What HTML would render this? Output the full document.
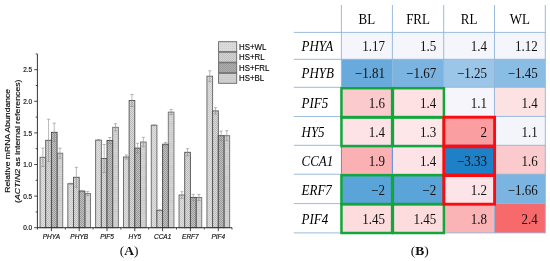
<!DOCTYPE html>
<html><head><meta charset="utf-8"><title>Figure</title>
<style>
html,body{margin:0;padding:0;background:#fff;}
body{width:550px;height:261px;position:relative;overflow:hidden;font-family:"Liberation Sans",sans-serif;}
svg text{white-space:pre;}
.sans, .sans text{font-family:"Liberation Sans",sans-serif;}
.sans text{stroke:#222;stroke-width:0.17px;}
.sans text.serif{stroke:none;}
.serif, .serif text, text.serif{font-family:"Liberation Serif",serif;}
</style></head><body>
<svg id="chart" width="276" height="261" viewBox="0 0 276 261" style="position:absolute;left:0;top:0" class="sans">
<defs>
<pattern id="pWL" width="2" height="2" patternUnits="userSpaceOnUse"><rect width="2" height="2" fill="#e2e2e2"/><rect x="0" y="0" width="1" height="1" fill="#c8c8c8"/><rect x="1" y="1" width="1" height="1" fill="#c8c8c8"/></pattern>
<pattern id="pRL" width="2" height="2" patternUnits="userSpaceOnUse"><rect width="2" height="2" fill="#dcdcdc"/><rect x="0" y="0" width="1" height="1" fill="#bababa"/><rect x="1" y="1" width="1" height="1" fill="#bababa"/></pattern>
<pattern id="pFRL" width="2" height="2" patternUnits="userSpaceOnUse"><rect width="2" height="2" fill="#c2c2c2"/><rect x="0" y="0" width="1" height="1" fill="#9a9a9a"/><rect x="1" y="1" width="1" height="1" fill="#9a9a9a"/></pattern>
<pattern id="pBL" width="2" height="2.2" patternUnits="userSpaceOnUse"><rect width="2" height="2.2" fill="#d8d8d8"/><rect x="0" y="0" width="2" height="1.1" fill="#c8c8c8"/></pattern>
<pattern id="lWL" width="2" height="2" patternUnits="userSpaceOnUse"><rect width="2" height="2" fill="#dcdcdc"/><rect x="0" y="0" width="1" height="1" fill="#cecece"/></pattern>
<pattern id="lRL" width="2" height="2" patternUnits="userSpaceOnUse"><rect width="2" height="2" fill="#d4d4d4"/><rect x="0" y="0" width="1" height="1" fill="#c0c0c0"/><rect x="1" y="1" width="1" height="1" fill="#c0c0c0"/></pattern>
<pattern id="lFRL" width="2" height="2" patternUnits="userSpaceOnUse"><rect width="2" height="2" fill="#acacac"/><rect x="0" y="0" width="1" height="1" fill="#9c9c9c"/><rect x="1" y="1" width="1" height="1" fill="#9c9c9c"/></pattern>
<pattern id="lBL" width="2" height="2.2" patternUnits="userSpaceOnUse"><rect width="2" height="2.2" fill="#d4d4d4"/><rect x="0" y="0" width="2" height="1.1" fill="#cacaca"/></pattern>
<filter id="soft" x="-2%" y="-2%" width="104%" height="104%"><feGaussianBlur stdDeviation="0.3"/></filter>
</defs>
<g filter="url(#soft)">
<rect x="40.04" y="157.30" width="5.68" height="70.40" fill="url(#pWL)" stroke="#626262" stroke-width="0.9"/>
<rect x="57.08" y="153.20" width="5.68" height="74.50" fill="url(#pBL)" stroke="#6e6e6e" stroke-width="0.9"/>
<rect x="45.72" y="140.30" width="5.68" height="87.40" fill="url(#pRL)" stroke="#525252" stroke-width="0.9"/>
<rect x="51.40" y="132.30" width="5.68" height="95.40" fill="url(#pFRL)" stroke="#464646" stroke-width="0.9"/>
<path d="M42.88 148.10V166.50M41.28 148.10h3.2M41.28 166.50h3.2" stroke="#8a8a8a" stroke-width="0.6" fill="none"/>
<path d="M48.56 119.20V161.40M46.96 119.20h3.2M46.96 161.40h3.2" stroke="#8a8a8a" stroke-width="0.6" fill="none"/>
<path d="M54.24 123.10V141.50M52.64 123.10h3.2M52.64 141.50h3.2" stroke="#8a8a8a" stroke-width="0.6" fill="none"/>
<path d="M59.92 148.10V158.30M58.32 148.10h3.2M58.32 158.30h3.2" stroke="#8a8a8a" stroke-width="0.6" fill="none"/>
<rect x="67.84" y="183.70" width="5.68" height="44.00" fill="url(#pWL)" stroke="#626262" stroke-width="0.9"/>
<rect x="84.88" y="193.60" width="5.68" height="34.10" fill="url(#pBL)" stroke="#6e6e6e" stroke-width="0.9"/>
<rect x="73.52" y="177.30" width="5.68" height="50.40" fill="url(#pRL)" stroke="#525252" stroke-width="0.9"/>
<rect x="79.20" y="191.10" width="5.68" height="36.60" fill="url(#pFRL)" stroke="#464646" stroke-width="0.9"/>
<path d="M70.68 183.20V184.20M69.08 183.20h3.2M69.08 184.20h3.2" stroke="#8a8a8a" stroke-width="0.6" fill="none"/>
<path d="M76.36 167.30V187.30M74.76 167.30h3.2M74.76 187.30h3.2" stroke="#8a8a8a" stroke-width="0.6" fill="none"/>
<path d="M82.04 190.40V191.80M80.44 190.40h3.2M80.44 191.80h3.2" stroke="#8a8a8a" stroke-width="0.6" fill="none"/>
<path d="M87.72 191.60V195.60M86.12 191.60h3.2M86.12 195.60h3.2" stroke="#8a8a8a" stroke-width="0.6" fill="none"/>
<rect x="95.64" y="140.10" width="5.68" height="87.60" fill="url(#pWL)" stroke="#626262" stroke-width="0.9"/>
<rect x="112.68" y="127.30" width="5.68" height="100.40" fill="url(#pBL)" stroke="#6e6e6e" stroke-width="0.9"/>
<rect x="101.32" y="158.50" width="5.68" height="69.20" fill="url(#pRL)" stroke="#525252" stroke-width="0.9"/>
<rect x="107.00" y="140.50" width="5.68" height="87.20" fill="url(#pFRL)" stroke="#464646" stroke-width="0.9"/>
<path d="M98.48 139.60V140.60M96.88 139.60h3.2M96.88 140.60h3.2" stroke="#8a8a8a" stroke-width="0.6" fill="none"/>
<path d="M104.16 144.50V172.50M102.56 144.50h3.2M102.56 172.50h3.2" stroke="#8a8a8a" stroke-width="0.6" fill="none"/>
<path d="M109.84 137.50V143.50M108.24 137.50h3.2M108.24 143.50h3.2" stroke="#8a8a8a" stroke-width="0.6" fill="none"/>
<path d="M115.52 123.70V130.90M113.92 123.70h3.2M113.92 130.90h3.2" stroke="#8a8a8a" stroke-width="0.6" fill="none"/>
<rect x="123.44" y="157.00" width="5.68" height="70.70" fill="url(#pWL)" stroke="#626262" stroke-width="0.9"/>
<rect x="140.48" y="142.00" width="5.68" height="85.70" fill="url(#pBL)" stroke="#6e6e6e" stroke-width="0.9"/>
<rect x="129.12" y="100.50" width="5.68" height="127.20" fill="url(#pRL)" stroke="#525252" stroke-width="0.9"/>
<rect x="134.80" y="148.10" width="5.68" height="79.60" fill="url(#pFRL)" stroke="#464646" stroke-width="0.9"/>
<path d="M126.28 155.00V159.00M124.68 155.00h3.2M124.68 159.00h3.2" stroke="#8a8a8a" stroke-width="0.6" fill="none"/>
<path d="M131.96 94.50V106.50M130.36 94.50h3.2M130.36 106.50h3.2" stroke="#8a8a8a" stroke-width="0.6" fill="none"/>
<path d="M137.64 143.30V152.90M136.04 143.30h3.2M136.04 152.90h3.2" stroke="#8a8a8a" stroke-width="0.6" fill="none"/>
<path d="M143.32 137.30V146.70M141.72 137.30h3.2M141.72 146.70h3.2" stroke="#8a8a8a" stroke-width="0.6" fill="none"/>
<rect x="151.24" y="125.20" width="5.68" height="102.50" fill="url(#pWL)" stroke="#626262" stroke-width="0.9"/>
<rect x="168.28" y="112.10" width="5.68" height="115.60" fill="url(#pBL)" stroke="#6e6e6e" stroke-width="0.9"/>
<rect x="156.92" y="210.30" width="5.68" height="17.40" fill="url(#pRL)" stroke="#525252" stroke-width="0.9"/>
<rect x="162.60" y="144.20" width="5.68" height="83.50" fill="url(#pFRL)" stroke="#464646" stroke-width="0.9"/>
<path d="M154.08 124.80V125.60M152.48 124.80h3.2M152.48 125.60h3.2" stroke="#8a8a8a" stroke-width="0.6" fill="none"/>
<path d="M159.76 209.90V210.70M158.16 209.90h3.2M158.16 210.70h3.2" stroke="#8a8a8a" stroke-width="0.6" fill="none"/>
<path d="M165.44 142.40V146.00M163.84 142.40h3.2M163.84 146.00h3.2" stroke="#8a8a8a" stroke-width="0.6" fill="none"/>
<path d="M171.12 109.60V114.60M169.52 109.60h3.2M169.52 114.60h3.2" stroke="#8a8a8a" stroke-width="0.6" fill="none"/>
<rect x="179.04" y="195.00" width="5.68" height="32.70" fill="url(#pWL)" stroke="#626262" stroke-width="0.9"/>
<rect x="196.08" y="197.40" width="5.68" height="30.30" fill="url(#pBL)" stroke="#6e6e6e" stroke-width="0.9"/>
<rect x="184.72" y="152.30" width="5.68" height="75.40" fill="url(#pRL)" stroke="#525252" stroke-width="0.9"/>
<rect x="190.40" y="197.40" width="5.68" height="30.30" fill="url(#pFRL)" stroke="#464646" stroke-width="0.9"/>
<path d="M181.88 191.70V198.30M180.28 191.70h3.2M180.28 198.30h3.2" stroke="#8a8a8a" stroke-width="0.6" fill="none"/>
<path d="M187.56 148.70V155.90M185.96 148.70h3.2M185.96 155.90h3.2" stroke="#8a8a8a" stroke-width="0.6" fill="none"/>
<path d="M193.24 194.40V200.40M191.64 194.40h3.2M191.64 200.40h3.2" stroke="#8a8a8a" stroke-width="0.6" fill="none"/>
<path d="M198.92 194.40V200.40M197.32 194.40h3.2M197.32 200.40h3.2" stroke="#8a8a8a" stroke-width="0.6" fill="none"/>
<rect x="206.94" y="76.20" width="5.68" height="151.50" fill="url(#pWL)" stroke="#626262" stroke-width="0.9"/>
<rect x="223.98" y="135.70" width="5.68" height="92.00" fill="url(#pBL)" stroke="#6e6e6e" stroke-width="0.9"/>
<rect x="212.62" y="110.90" width="5.68" height="116.80" fill="url(#pRL)" stroke="#525252" stroke-width="0.9"/>
<rect x="218.30" y="135.70" width="5.68" height="92.00" fill="url(#pFRL)" stroke="#464646" stroke-width="0.9"/>
<path d="M209.78 70.80V81.60M208.18 70.80h3.2M208.18 81.60h3.2" stroke="#8a8a8a" stroke-width="0.6" fill="none"/>
<path d="M215.46 107.70V114.10M213.86 107.70h3.2M213.86 114.10h3.2" stroke="#8a8a8a" stroke-width="0.6" fill="none"/>
<path d="M221.14 131.00V140.40M219.54 131.00h3.2M219.54 140.40h3.2" stroke="#8a8a8a" stroke-width="0.6" fill="none"/>
<path d="M226.82 130.70V140.70M225.22 130.70h3.2M225.22 140.70h3.2" stroke="#8a8a8a" stroke-width="0.6" fill="none"/>
</g>
<path d="M37.4 54.1V227.7H232.0" stroke="#333" stroke-width="1" fill="none"/>
<path d="M34.20 227.70H37.4" stroke="#333" stroke-width="0.9"/>
<text transform="translate(32.20 230.30) scale(0.870 1)" font-size="7.4" text-anchor="end" fill="#000">0.0</text>
<path d="M34.20 196.10H37.4" stroke="#333" stroke-width="0.9"/>
<text transform="translate(32.20 198.70) scale(0.870 1)" font-size="7.4" text-anchor="end" fill="#000">0.5</text>
<path d="M34.20 164.50H37.4" stroke="#333" stroke-width="0.9"/>
<text transform="translate(32.20 167.10) scale(0.870 1)" font-size="7.4" text-anchor="end" fill="#000">1.0</text>
<path d="M34.20 132.90H37.4" stroke="#333" stroke-width="0.9"/>
<text transform="translate(32.20 135.50) scale(0.870 1)" font-size="7.4" text-anchor="end" fill="#000">1.5</text>
<path d="M34.20 101.30H37.4" stroke="#333" stroke-width="0.9"/>
<text transform="translate(32.20 103.90) scale(0.870 1)" font-size="7.4" text-anchor="end" fill="#000">2.0</text>
<path d="M34.20 69.70H37.4" stroke="#333" stroke-width="0.9"/>
<text transform="translate(32.20 72.30) scale(0.870 1)" font-size="7.4" text-anchor="end" fill="#000">2.5</text>
<path d="M35.70 211.90H37.4" stroke="#333" stroke-width="0.9"/>
<path d="M35.70 180.30H37.4" stroke="#333" stroke-width="0.9"/>
<path d="M35.70 148.70H37.4" stroke="#333" stroke-width="0.9"/>
<path d="M35.70 117.10H37.4" stroke="#333" stroke-width="0.9"/>
<path d="M35.70 85.50H37.4" stroke="#333" stroke-width="0.9"/>
<path d="M35.70 53.90H37.4" stroke="#333" stroke-width="0.9"/>
<path d="M51.40 227.7v3.5" stroke="#333" stroke-width="0.9"/>
<path d="M65.30 227.7v1.8" stroke="#333" stroke-width="0.9"/>
<text transform="translate(51.40 239.30) scale(0.915 1)" font-size="7.1" text-anchor="middle" font-style="italic" fill="#000">PHYA</text>
<path d="M79.20 227.7v3.5" stroke="#333" stroke-width="0.9"/>
<path d="M93.10 227.7v1.8" stroke="#333" stroke-width="0.9"/>
<text transform="translate(79.20 239.30) scale(0.915 1)" font-size="7.1" text-anchor="middle" font-style="italic" fill="#000">PHYB</text>
<path d="M107.00 227.7v3.5" stroke="#333" stroke-width="0.9"/>
<path d="M120.90 227.7v1.8" stroke="#333" stroke-width="0.9"/>
<text transform="translate(107.00 239.30) scale(0.915 1)" font-size="7.1" text-anchor="middle" font-style="italic" fill="#000">PIF5</text>
<path d="M134.80 227.7v3.5" stroke="#333" stroke-width="0.9"/>
<path d="M148.70 227.7v1.8" stroke="#333" stroke-width="0.9"/>
<text transform="translate(134.80 239.30) scale(0.915 1)" font-size="7.1" text-anchor="middle" font-style="italic" fill="#000">HY5</text>
<path d="M162.60 227.7v3.5" stroke="#333" stroke-width="0.9"/>
<path d="M176.50 227.7v1.8" stroke="#333" stroke-width="0.9"/>
<text transform="translate(162.60 239.30) scale(0.915 1)" font-size="7.1" text-anchor="middle" font-style="italic" fill="#000">CCA1</text>
<path d="M190.40 227.7v3.5" stroke="#333" stroke-width="0.9"/>
<path d="M204.30 227.7v1.8" stroke="#333" stroke-width="0.9"/>
<text transform="translate(190.40 239.30) scale(0.915 1)" font-size="7.1" text-anchor="middle" font-style="italic" fill="#000">ERF7</text>
<path d="M218.30 227.7v3.5" stroke="#333" stroke-width="0.9"/>
<text transform="translate(218.30 239.30) scale(0.915 1)" font-size="7.1" text-anchor="middle" font-style="italic" fill="#000">PIF4</text>
<path d="M232.0 227.7v1.8" stroke="#333" stroke-width="0.9"/>
<path d="M37.4 227.7v1.8" stroke="#333" stroke-width="1"/>
<text transform="translate(10.10 140.80) rotate(-90) scale(1.118 1)" font-size="7.7" text-anchor="middle" fill="#000">Relative mRNA Abundance</text>
<text transform="translate(19.90 141.20) rotate(-90) scale(1.137 1)" font-size="7.7" text-anchor="middle" fill="#000">(<tspan font-style="italic">ACTIN2</tspan> as internal references)</text>
<g filter="url(#soft)">
<rect x="218.6" y="41.70" width="18.10" height="9.95" fill="url(#lWL)" stroke="#666" stroke-width="0.9"/>
<rect x="218.6" y="52.25" width="18.10" height="9.95" fill="url(#lRL)" stroke="#666" stroke-width="0.9"/>
<rect x="218.6" y="62.80" width="18.10" height="9.95" fill="url(#lFRL)" stroke="#666" stroke-width="0.9"/>
<rect x="218.6" y="73.35" width="18.10" height="9.95" fill="url(#lBL)" stroke="#666" stroke-width="0.9"/>
</g>
<text transform="translate(239.00 49.60) scale(0.875 1)" font-size="9.0" text-anchor="start" fill="#000">HS+WL</text>
<text transform="translate(239.00 60.15) scale(0.875 1)" font-size="9.0" text-anchor="start" fill="#000">HS+RL</text>
<text transform="translate(239.00 70.70) scale(0.875 1)" font-size="9.0" text-anchor="start" fill="#000">HS+FRL</text>
<text transform="translate(239.00 81.25) scale(0.875 1)" font-size="9.0" text-anchor="start" fill="#000">HS+BL</text>
<text transform="translate(129.00 254.80)" font-size="13.5" text-anchor="middle" class="serif" fill="#111">(<tspan font-weight="bold">A</tspan>)</text>
</svg>
<svg id="tbl" width="274" height="261" viewBox="276 0 274 261" style="position:absolute;left:276px;top:0" class="serif">
<rect x="341.4" y="32.4" width="51.00" height="26.90" fill="#f4f6fb"/>
<rect x="392.4" y="32.4" width="51.30" height="26.90" fill="#f4f6fb"/>
<rect x="443.7" y="32.4" width="50.80" height="26.90" fill="#f4f6fb"/>
<rect x="494.5" y="32.4" width="50.80" height="26.90" fill="#f4f6fb"/>
<rect x="341.4" y="59.3" width="51.00" height="28.00" fill="#68aadb"/>
<rect x="392.4" y="59.3" width="51.30" height="28.00" fill="#7bb4e0"/>
<rect x="443.7" y="59.3" width="50.80" height="28.00" fill="#9cc6e8"/>
<rect x="494.5" y="59.3" width="50.80" height="28.00" fill="#8abde4"/>
<rect x="341.4" y="87.3" width="51.00" height="29.15" fill="#fbcacc"/>
<rect x="392.4" y="87.3" width="51.30" height="29.15" fill="#fde1e3"/>
<rect x="443.7" y="87.3" width="50.80" height="29.15" fill="#f6f5fb"/>
<rect x="494.5" y="87.3" width="50.80" height="29.15" fill="#fde2e4"/>
<rect x="341.4" y="116.45" width="51.00" height="28.85" fill="#fde3e5"/>
<rect x="392.4" y="116.45" width="51.30" height="28.85" fill="#fde7e9"/>
<rect x="443.7" y="116.45" width="50.80" height="28.85" fill="#fa9ea1"/>
<rect x="494.5" y="116.45" width="50.80" height="28.85" fill="#f4f5fb"/>
<rect x="341.4" y="145.3" width="51.00" height="28.90" fill="#fbb0b3"/>
<rect x="392.4" y="145.3" width="51.30" height="28.90" fill="#fde3e5"/>
<rect x="443.7" y="145.3" width="50.80" height="28.90" fill="#1e80c6"/>
<rect x="494.5" y="145.3" width="50.80" height="28.90" fill="#fbcacc"/>
<rect x="341.4" y="174.2" width="51.00" height="29.40" fill="#5ba4d9"/>
<rect x="392.4" y="174.2" width="51.30" height="29.40" fill="#5ba4d9"/>
<rect x="443.7" y="174.2" width="50.80" height="29.40" fill="#fde4e8"/>
<rect x="494.5" y="174.2" width="50.80" height="29.40" fill="#7bb4e0"/>
<rect x="341.4" y="203.6" width="51.00" height="29.30" fill="#fddcde"/>
<rect x="392.4" y="203.6" width="51.30" height="29.30" fill="#fddcde"/>
<rect x="443.7" y="203.6" width="50.80" height="29.30" fill="#fab4b6"/>
<rect x="494.5" y="203.6" width="50.80" height="29.30" fill="#f8696b"/>
<path d="M293.8 32.4H545.6999999999999" stroke="#8fb3d9" stroke-width="0.9"/>
<path d="M293.8 59.3H545.6999999999999" stroke="#8fb3d9" stroke-width="0.9"/>
<path d="M293.8 87.3H545.6999999999999" stroke="#8fb3d9" stroke-width="0.9"/>
<path d="M293.8 116.45H545.6999999999999" stroke="#8fb3d9" stroke-width="0.9"/>
<path d="M293.8 145.3H545.6999999999999" stroke="#8fb3d9" stroke-width="0.9"/>
<path d="M293.8 174.2H545.6999999999999" stroke="#8fb3d9" stroke-width="0.9"/>
<path d="M293.8 203.6H545.6999999999999" stroke="#8fb3d9" stroke-width="0.9"/>
<path d="M293.8 232.9H545.6999999999999" stroke="#8fb3d9" stroke-width="0.9"/>
<path d="M341.4 5.0V232.9" stroke="#8fb3d9" stroke-width="0.9"/>
<path d="M392.4 5.0V232.9" stroke="#8fb3d9" stroke-width="0.9"/>
<path d="M443.7 5.0V232.9" stroke="#8fb3d9" stroke-width="0.9"/>
<path d="M494.5 5.0V232.9" stroke="#8fb3d9" stroke-width="0.9"/>
<path d="M545.3 5.0V232.9" stroke="#8fb3d9" stroke-width="0.9"/>
<path d="M341.5 146.6V173.4" stroke="#5b8fd9" stroke-width="0.9"/>
<path d="M392.4 146.6V173.4" stroke="#5b8fd9" stroke-width="0.9"/>
<text transform="translate(366.90 23.90) scale(0.897 1)" font-size="14.5" text-anchor="middle" fill="#000">BL</text>
<text transform="translate(418.05 23.90) scale(0.897 1)" font-size="14.5" text-anchor="middle" fill="#000">FRL</text>
<text transform="translate(469.10 23.90) scale(0.897 1)" font-size="14.5" text-anchor="middle" fill="#000">RL</text>
<text transform="translate(519.90 23.90) scale(0.897 1)" font-size="14.5" text-anchor="middle" fill="#000">WL</text>
<text transform="translate(301.50 51.30) scale(0.897 1)" font-size="14.5" text-anchor="start" font-style="italic" fill="#000">PHYA</text>
<text transform="translate(384.90 51.30) scale(0.897 1)" font-size="14.5" text-anchor="end" fill="#111">1.17</text>
<text transform="translate(436.20 51.30) scale(0.897 1)" font-size="14.5" text-anchor="end" fill="#111">1.5</text>
<text transform="translate(487.00 51.30) scale(0.897 1)" font-size="14.5" text-anchor="end" fill="#111">1.4</text>
<text transform="translate(537.80 51.30) scale(0.897 1)" font-size="14.5" text-anchor="end" fill="#111">1.12</text>
<text transform="translate(301.50 78.25) scale(0.897 1)" font-size="14.5" text-anchor="start" font-style="italic" fill="#000">PHYB</text>
<text transform="translate(384.90 78.25) scale(0.897 1)" font-size="14.5" text-anchor="end" fill="#111">−1.81</text>
<text transform="translate(436.20 78.25) scale(0.897 1)" font-size="14.5" text-anchor="end" fill="#111">−1.67</text>
<text transform="translate(487.00 78.25) scale(0.897 1)" font-size="14.5" text-anchor="end" fill="#111">−1.25</text>
<text transform="translate(537.80 78.25) scale(0.897 1)" font-size="14.5" text-anchor="end" fill="#111">−1.45</text>
<text transform="translate(301.50 107.70) scale(0.897 1)" font-size="14.5" text-anchor="start" font-style="italic" fill="#000">PIF5</text>
<text transform="translate(384.90 107.70) scale(0.897 1)" font-size="14.5" text-anchor="end" fill="#111">1.6</text>
<text transform="translate(436.20 107.70) scale(0.897 1)" font-size="14.5" text-anchor="end" fill="#111">1.4</text>
<text transform="translate(487.00 107.70) scale(0.897 1)" font-size="14.5" text-anchor="end" fill="#111">1.1</text>
<text transform="translate(537.80 107.70) scale(0.897 1)" font-size="14.5" text-anchor="end" fill="#111">1.4</text>
<text transform="translate(301.50 136.60) scale(0.897 1)" font-size="14.5" text-anchor="start" font-style="italic" fill="#000">HY5</text>
<text transform="translate(384.90 136.60) scale(0.897 1)" font-size="14.5" text-anchor="end" fill="#111">1.4</text>
<text transform="translate(436.20 136.60) scale(0.897 1)" font-size="14.5" text-anchor="end" fill="#111">1.3</text>
<text transform="translate(487.00 136.60) scale(0.897 1)" font-size="14.5" text-anchor="end" fill="#111">2</text>
<text transform="translate(537.80 136.60) scale(0.897 1)" font-size="14.5" text-anchor="end" fill="#111">1.1</text>
<text transform="translate(301.50 165.90) scale(0.897 1)" font-size="14.5" text-anchor="start" font-style="italic" fill="#000">CCA1</text>
<text transform="translate(384.90 165.90) scale(0.897 1)" font-size="14.5" text-anchor="end" fill="#111">1.9</text>
<text transform="translate(436.20 165.90) scale(0.897 1)" font-size="14.5" text-anchor="end" fill="#111">1.4</text>
<text transform="translate(487.00 165.90) scale(0.897 1)" font-size="14.5" text-anchor="end" fill="#111">−3.33</text>
<text transform="translate(537.80 165.90) scale(0.897 1)" font-size="14.5" text-anchor="end" fill="#111">1.6</text>
<text transform="translate(301.50 194.90) scale(0.897 1)" font-size="14.5" text-anchor="start" font-style="italic" fill="#000">ERF7</text>
<text transform="translate(384.90 194.90) scale(0.897 1)" font-size="14.5" text-anchor="end" fill="#111">−2</text>
<text transform="translate(436.20 194.90) scale(0.897 1)" font-size="14.5" text-anchor="end" fill="#111">−2</text>
<text transform="translate(487.00 194.90) scale(0.897 1)" font-size="14.5" text-anchor="end" fill="#111">1.2</text>
<text transform="translate(537.80 194.90) scale(0.897 1)" font-size="14.5" text-anchor="end" fill="#111">−1.66</text>
<text transform="translate(301.50 223.70) scale(0.897 1)" font-size="14.5" text-anchor="start" font-style="italic" fill="#000">PIF4</text>
<text transform="translate(384.90 223.70) scale(0.897 1)" font-size="14.5" text-anchor="end" fill="#111">1.45</text>
<text transform="translate(436.20 223.70) scale(0.897 1)" font-size="14.5" text-anchor="end" fill="#111">1.45</text>
<text transform="translate(487.00 223.70) scale(0.897 1)" font-size="14.5" text-anchor="end" fill="#111">1.8</text>
<text transform="translate(537.80 223.70) scale(0.897 1)" font-size="14.5" text-anchor="end" fill="#111">2.4</text>
<rect x="341.45" y="88.20" width="50.65" height="28.90" fill="none" stroke="#12a73c" stroke-width="2.5"/>
<rect x="392.90" y="88.20" width="51.00" height="28.90" fill="none" stroke="#12a73c" stroke-width="2.5"/>
<rect x="341.45" y="117.50" width="50.65" height="28.60" fill="none" stroke="#12a73c" stroke-width="2.5"/>
<rect x="392.90" y="117.50" width="51.00" height="28.60" fill="none" stroke="#12a73c" stroke-width="2.5"/>
<rect x="341.45" y="175.20" width="50.65" height="28.80" fill="none" stroke="#12a73c" stroke-width="2.5"/>
<rect x="392.90" y="175.20" width="51.00" height="28.80" fill="none" stroke="#12a73c" stroke-width="2.5"/>
<rect x="341.45" y="204.30" width="50.65" height="28.70" fill="none" stroke="#12a73c" stroke-width="2.5"/>
<rect x="392.90" y="204.30" width="51.00" height="28.70" fill="none" stroke="#12a73c" stroke-width="2.5"/>
<rect x="443.80" y="117.20" width="50.80" height="28.80" fill="none" stroke="#fa0d12" stroke-width="2.9"/>
<rect x="443.80" y="146.80" width="50.80" height="28.00" fill="none" stroke="#fa0d12" stroke-width="2.9"/>
<rect x="443.80" y="175.60" width="50.80" height="28.60" fill="none" stroke="#fa0d12" stroke-width="2.9"/>
<text transform="translate(419.80 254.90)" font-size="13.5" text-anchor="middle" fill="#111">(<tspan font-weight="bold">B</tspan>)</text>
</svg>
</body></html>
